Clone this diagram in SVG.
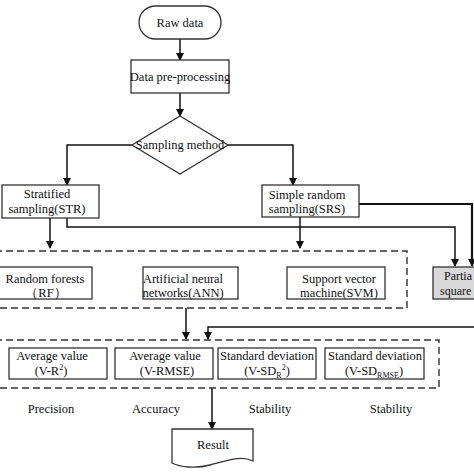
<svg xmlns="http://www.w3.org/2000/svg" width="474" height="474" viewBox="0 0 474 474">
<style>
text{font-family:'Liberation Serif','Times New Roman','DejaVu Serif',serif;font-size:12.5px;fill:#111;text-anchor:middle}
.box{fill:#fff;stroke:#333;stroke-width:1.3}
.dash{fill:none;stroke:#333;stroke-width:1.4;stroke-dasharray:7 4}
.ar{fill:none;stroke:#111;stroke-width:1.5;marker-end:url(#ah)}
</style>
<defs>
<marker id="ah" markerWidth="8" markerHeight="8" refX="7" refY="4" orient="auto" markerUnits="userSpaceOnUse">
<path d="M0,0 L8,4 L0,8 Z" fill="#111"/>
</marker>
</defs>
<rect width="474" height="474" fill="#fff"/>

<g id="connectors">
<path class="ar" d="M180,39 V60"/>
<path class="ar" d="M180,93 V116"/>
<path class="ar" d="M132,145 H67 V185"/>
<path class="ar" d="M228,145 H293 V185"/>
<path class="ar" d="M50,218 V248"/>
<path class="ar" d="M300,217 V248"/>
<path class="ar" d="M67,218 V227 H455 V266"/>
<path class="ar" d="M359,204 H472 V266" style="stroke-width:2.2"/>
<path class="ar" d="M186,308 V339"/>
<path class="ar" d="M474,327 H208 V339"/>
<path class="ar" d="M212,388 V429"/>
</g>

<g font-family="Liberation Serif, Times New Roman, DejaVu Serif, serif">
<g id="raw-data">
<rect class="box" x="139" y="6" width="82" height="33" rx="16.5"/>
<text x="180" y="27">Raw data</text>
</g>

<g id="preprocessing">
<rect class="box" x="131" y="60" width="98" height="33"/>
<text x="180" y="81">Data pre-processing</text>
</g>

<g id="sampling-method">
<path class="box" d="M180,116 L228,145 L180,174 L132,145 Z"/>
<text x="180" y="149">Sampling method</text>
</g>

<g id="str">
<rect class="box" x="2" y="185" width="97" height="33"/>
<text x="47" y="198">Stratified</text>
<text x="47" y="213">sampling(STR)</text>
</g>

<g id="srs">
<rect class="box" x="262" y="185" width="97" height="32"/>
<text x="307" y="199">Simple random</text>
<text x="307" y="213">sampling(SRS)</text>
</g>

<g id="models-group">
<rect class="dash" x="-5" y="251" width="412" height="57"/>
</g>

<g id="rf">
<rect class="box" x="-2" y="267" width="94" height="32"/>
<text x="45" y="283">Random forests</text>
<text x="46" y="297">（RF）</text>
</g>

<g id="ann">
<rect class="box" x="143" y="267" width="95" height="32"/>
<text x="183" y="283">Artificial neural</text>
<text x="183" y="297">networks(ANN)</text>
</g>

<g id="svm">
<rect class="box" x="287" y="267" width="98" height="32"/>
<text x="339" y="283">Support vector</text>
<text x="339" y="297">machine(SVM)</text>
</g>

<g id="pls">
<rect x="433" y="267" width="50" height="32" fill="#d9d9d9" stroke="#333" stroke-width="1.3"/>
<text x="444" y="280" style="text-anchor:start;font-size:12px">Partia</text>
<text x="440" y="295" style="text-anchor:start;font-size:12px">square</text>
</g>

<g id="metrics-group">
<rect class="dash" x="-5" y="340" width="444" height="48"/>
</g>

<g id="v-r2">
<rect class="box" x="9" y="348" width="98" height="31"/>
<text x="52" y="360">Average value</text>
<text x="51" y="375">(V-R<tspan dy="-5" font-size="8">2</tspan><tspan dy="5">)</tspan></text>
</g>

<g id="v-rmse">
<rect class="box" x="115" y="348" width="98" height="31"/>
<text x="165" y="360">Average value</text>
<text x="167" y="375">(V-RMSE)</text>
</g>

<g id="v-sdr2">
<rect class="box" x="218" y="348" width="98" height="31"/>
<text x="267" y="360">Standard deviation</text>
<text x="267" y="375">(V-SD<tspan dy="3" font-size="8">R</tspan><tspan dy="-8" font-size="8">2</tspan><tspan dy="5">)</tspan></text>
</g>

<g id="v-sdrmse">
<rect class="box" x="325" y="348" width="99" height="31"/>
<text x="375" y="360">Standard deviation</text>
<text x="374" y="375">(V-SD<tspan dy="3" font-size="8">RMSE</tspan><tspan dy="-3">)</tspan></text>
</g>

<g id="labels">
<text x="51" y="413">Precision</text>
<text x="156" y="413">Accuracy</text>
<text x="270" y="413">Stability</text>
<text x="391" y="413">Stability</text>
</g>

<g id="result">
<path class="box" d="M172,429 H253 V461 C240,455 225,461 210,465 C195,469 180,467 172,463 Z"/>
<text x="213" y="449">Result</text>
</g>
</g>
</svg>
